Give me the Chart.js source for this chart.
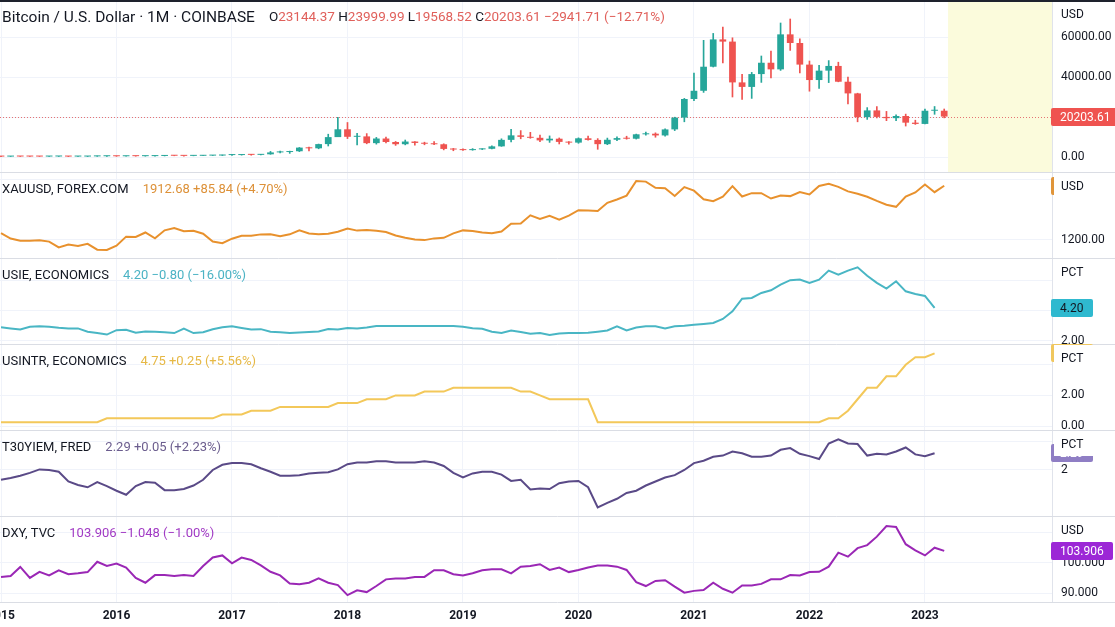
<!DOCTYPE html>
<html>
<head>
<meta charset="utf-8">
<script src="https://cdn.jsdelivr.net/npm/chart.js@4.4.1/dist/chart.umd.min.js"></script>
<style>
  html, body { margin: 0; padding: 0; background: #fff; overflow: hidden; }
  #wrap { width: 1115px; height: 627px; position: relative; }
</style>
</head>
<body>
<div id="wrap"><canvas id="chart" width="1115" height="627"></canvas></div>
<script>
// monthly bars, Jan 2015 = index 0
const YEAR_TICKS = [0, 12, 24, 36, 48, 60, 72, 84, 96];
const YEAR_LABELS = ['2015', '2016', '2017', '2018', '2019', '2020', '2021', '2022', '2023'];

const BTC_O = [314, 217, 254, 244, 236, 230, 263, 284, 230, 236, 314, 377,
  430, 368, 437, 416, 448, 531, 673, 624, 573, 609, 698, 742,
  963, 970, 1190, 1080, 1350, 2300, 2480, 2875, 4700, 4340, 6450, 9950,
  13850, 10100, 10300, 6930, 9240, 7500, 6390, 7730, 7030, 6630, 6370, 4040,
  3740, 3440, 3820, 4100, 5320, 8570, 10820, 10080, 9600, 8300, 9150, 7550,
  7190, 9350, 8540, 6420, 8620, 9450, 9140, 11350, 11650, 10780, 13800, 19700,
  28990, 33110, 45140, 58800, 57700, 37300, 35040, 41460, 47130, 43820, 61320, 57000,
  46200, 38480, 43180, 45530, 37640, 31800, 19940, 23300, 20050, 19420, 20490, 17170,
  16540, 23130, 23144.37];
const BTC_H = [315, 265, 300, 260, 248, 267, 315, 285, 244, 333, 500, 470,
  460, 441, 440, 467, 550, 780, 703, 625, 630, 740, 755, 975,
  1150, 1200, 1350, 1350, 2790, 2990, 2940, 4750, 5000, 6470, 11400, 19890,
  17250, 11800, 11700, 9800, 9990, 7780, 8490, 7760, 7410, 7680, 6600, 4300,
  4120, 4200, 4150, 5620, 9100, 13880, 13200, 12330, 10950, 10540, 9520, 7750,
  9580, 10500, 9190, 9460, 10080, 10390, 11450, 12480, 12080, 14100, 19900, 29300,
  41950, 58350, 61790, 64900, 59600, 41300, 42300, 50500, 52900, 67000, 69000, 59100,
  47990, 45800, 48200, 47400, 40000, 31900, 24700, 25200, 22800, 21100, 21450, 18400,
  23950, 25250, 23999.99];
const BTC_L = [166, 212, 238, 212, 226, 218, 253, 162, 225, 236, 305, 350,
  350, 365, 405, 414, 440, 520, 605, 470, 590, 605, 690, 740,
  750, 930, 890, 1060, 1350, 2100, 1810, 2700, 2980, 4100, 5500, 10800,
  9200, 6000, 6600, 6430, 7030, 5800, 6070, 5880, 6100, 6200, 3560, 3120,
  3350, 3380, 3700, 4080, 5320, 7500, 9100, 9350, 7700, 7300, 6520, 6430,
  6850, 8450, 3850, 6160, 8130, 8900, 8970, 10950, 9880, 10430, 13200, 17600,
  28130, 32300, 45000, 47000, 30000, 28800, 29300, 37300, 39600, 43300, 53300, 42000,
  32900, 34300, 37200, 37600, 26600, 17600, 18800, 19550, 18150, 18180, 15480, 16300,
  16500, 21350, 19568.52];
const BTC_C = [217, 254, 244, 236, 230, 263, 284, 230, 236, 314, 377, 430,
  368, 437, 416, 448, 531, 673, 624, 573, 609, 698, 742, 963,
  970, 1190, 1080, 1350, 2300, 2480, 2875, 4700, 4340, 6450, 9950, 13850,
  10100, 10300, 6930, 9240, 7500, 6390, 7730, 7030, 6630, 6370, 4040, 3740,
  3440, 3820, 4100, 5320, 8570, 10820, 10080, 9600, 8300, 9150, 7550, 7190,
  9350, 8540, 6420, 8620, 9450, 9140, 11350, 11650, 10780, 13800, 19700, 28990,
  33110, 45140, 58800, 57700, 37300, 35040, 41460, 47130, 43820, 61320, 57000, 46200,
  38480, 43180, 45530, 37640, 31800, 19940, 23300, 20050, 19420, 20490, 17170, 16540,
  23130, 23145.32, 20203.61];

const XAUUSD = [1283, 1213, 1183, 1184, 1190, 1172, 1095, 1133, 1115, 1142, 1065, 1061,
  1118, 1238, 1233, 1293, 1215, 1322, 1351, 1309, 1316, 1277, 1173, 1152,
  1211, 1249, 1249, 1268, 1269, 1242, 1269, 1322, 1280, 1271, 1275, 1303,
  1345, 1318, 1325, 1315, 1299, 1253, 1224, 1201, 1192, 1215, 1222, 1282,
  1321, 1313, 1292, 1284, 1305, 1409, 1413, 1520, 1472, 1513, 1464, 1517,
  1589, 1585, 1577, 1686, 1730, 1781, 1975, 1967, 1886, 1879, 1776, 1895,
  1847, 1734, 1708, 1769, 1907, 1770, 1814, 1813, 1743, 1783, 1775, 1829,
  1797, 1909, 1937, 1897, 1838, 1807, 1766, 1711, 1661, 1633, 1768, 1824,
  1928, 1826.84, 1912.68];

const USIE = [2.91, 2.84, 2.77, 2.95, 2.98, 2.95, 2.88, 2.83, 2.84, 2.62, 2.54, 2.43,
  2.72, 2.75, 2.55, 2.63, 2.62, 2.58, 2.53, 2.82, 2.53, 2.58, 2.78, 2.92,
  2.98, 2.87, 2.76, 2.79, 2.62, 2.58, 2.53, 2.56, 2.60, 2.64, 2.80, 2.76,
  2.86, 2.84, 2.90, 3.00, 3.00, 3.00, 3.00, 3.00, 3.00, 3.00, 3.00, 3.00,
  2.95, 2.85, 2.82, 2.62, 2.53, 2.70, 2.60, 2.49, 2.53, 2.40, 2.50, 2.53,
  2.53, 2.55, 2.62, 2.70, 2.98, 2.70, 2.90, 2.98, 2.98, 2.84, 2.98, 3.02,
  3.08, 3.14, 3.20, 3.47, 3.98, 4.82, 4.87, 5.20, 5.38, 5.76, 6.05, 6.09,
  5.87, 6.09, 6.69, 6.42, 6.69, 6.91, 6.35, 5.87, 5.49, 5.98, 5.31, 5.13,
  5.00, 4.20];

const USINTR = [0.25, 0.25, 0.25, 0.25, 0.25, 0.25, 0.25, 0.25, 0.25, 0.25, 0.25, 0.5,
  0.5, 0.5, 0.5, 0.5, 0.5, 0.5, 0.5, 0.5, 0.5, 0.5, 0.5, 0.75,
  0.75, 0.75, 1.0, 1.0, 1.0, 1.25, 1.25, 1.25, 1.25, 1.25, 1.25, 1.5,
  1.5, 1.5, 1.75, 1.75, 1.75, 2.0, 2.0, 2.0, 2.25, 2.25, 2.25, 2.5,
  2.5, 2.5, 2.5, 2.5, 2.5, 2.5, 2.25, 2.25, 2.0, 1.75, 1.75, 1.75,
  1.75, 1.75, 0.25, 0.25, 0.25, 0.25, 0.25, 0.25, 0.25, 0.25, 0.25, 0.25,
  0.25, 0.25, 0.25, 0.25, 0.25, 0.25, 0.25, 0.25, 0.25, 0.25, 0.25, 0.25,
  0.25, 0.25, 0.5, 0.5, 1.0, 1.75, 2.5, 2.5, 3.25, 3.25, 4.0, 4.5,
  4.5, 4.75];

const T30YIEM = [1.83, 1.86, 1.90, 1.95, 2.01, 2.00, 1.97, 1.80, 1.74, 1.70, 1.79, 1.72,
  1.64, 1.57, 1.72, 1.79, 1.78, 1.65, 1.65, 1.67, 1.73, 1.83, 2.00, 2.09,
  2.12, 2.12, 2.10, 2.03, 1.97, 1.90, 1.90, 1.91, 1.94, 1.95, 1.96, 2.01,
  2.10, 2.13, 2.13, 2.15, 2.15, 2.13, 2.13, 2.13, 2.15, 2.13, 2.07, 1.95,
  1.87, 1.94, 1.97, 1.97, 1.92, 1.81, 1.83, 1.66, 1.68, 1.67, 1.77, 1.80,
  1.81, 1.70, 1.35, 1.43, 1.50, 1.60, 1.64, 1.73, 1.80, 1.87, 1.91, 2.00,
  2.12, 2.16, 2.23, 2.25, 2.32, 2.29, 2.23, 2.23, 2.25, 2.35, 2.38, 2.28,
  2.24, 2.19, 2.46, 2.53, 2.46, 2.45, 2.25, 2.28, 2.27, 2.32, 2.39, 2.27,
  2.24, 2.29];

const DXY = [95.3, 95.6, 98.6, 95.0, 97.0, 95.8, 97.5, 96.2, 96.5, 96.9, 100.3, 98.9,
  99.7, 98.4, 95.0, 93.4, 95.9, 95.9, 95.6, 95.9, 95.6, 98.9, 101.7, 102.4,
  99.8, 101.7, 100.9, 99.1, 97.0, 95.8, 93.1, 92.9, 93.4, 94.8, 93.4, 92.6,
  89.3, 90.9, 90.3, 92.3, 94.5, 94.8, 94.8, 95.3, 95.3, 97.5, 97.5, 96.2,
  95.8, 96.5, 97.5, 97.8, 97.8, 96.5, 98.7, 98.9, 99.5, 97.6, 98.4, 96.9,
  97.6, 98.4, 99.1, 99.1, 98.7, 97.6, 93.6, 92.3, 94.0, 94.2, 92.1, 90.1,
  90.7, 91.0, 93.4, 91.4, 90.1, 92.5, 92.5, 93.0, 94.5, 94.5, 95.9, 95.8,
  96.9, 97.0, 98.7, 103.3, 102.0, 104.8, 105.8, 108.6, 112.1, 111.8, 106.1, 104.1,
  102.4, 104.954, 103.906];

const BTC_TICKS = [0, 20000, 40000, 60000];
const XAU_TICKS = [1200, 2000];
const USIE_TICKS = [2, 4, 6];
const USINTR_TICKS = [0, 2, 4];
const T30_TICKS = [2, 2.5];
const DXY_TICKS = [90, 100, 110];

const SHADE_START = 98.4;   // highlighted range after the last bar

const FONT = "Roboto, 'Noto Sans', sans-serif";
const TEXT = '#131722';
const GRID = '#f0f3fa';
const AXIS = '#e0e3eb';
const UP = '#26a69a';
const DOWN = '#ef5350';
const MINUS = '\u2212';

Chart.defaults.font.family = FONT;

const pts = (arr) => arr.map((v, i) => ({ x: i, y: v }));
const candleColors = BTC_C.map((c, i) => (c >= BTC_O[i] ? UP : DOWN));
const signed = (v, d) => (v >= 0 ? '+' : MINUS) + Math.abs(v).toFixed(d);

const PANES = [
  { axis: 'yBtc', title: 'Bitcoin / U.S. Dollar \u00b7 1M \u00b7 COINBASE', unit: 'USD', data: BTC_C, dec: 2,
    titleSize: 15.5, valueSize: 13.5, legend: '#e0605b', tag: '#ef5350', tagText: '#ffffff', ohlc: true },
  { axis: 'yXau', title: 'XAUUSD, FOREX.COM', unit: 'USD', data: XAUUSD, dec: 2, legend: '#dd9138', tag: '#e0953a', tagText: '#ffffff' },
  { axis: 'yUsie', title: 'USIE, ECONOMICS', unit: 'PCT', data: USIE, dec: 2, legend: '#4bb3c4', tag: '#2fb9cf', tagText: '#131722' },
  { axis: 'yRate', title: 'USINTR, ECONOMICS', unit: 'PCT', data: USINTR, dec: 2, legend: '#e6b845', tag: '#f0c75e', tagText: '#131722' },
  { axis: 'yT30', title: 'T30YIEM, FRED', unit: 'PCT', data: T30YIEM, dec: 2, legend: '#6b5d8e', tag: '#8f7ec4', tagText: '#ffffff' },
  { axis: 'yDxy', title: 'DXY, TVC', unit: 'USD', data: DXY, dec: 3, legend: '#a13ac4', tag: '#9c27d6', tagText: '#ffffff' },
];

function legendParts(p) {
  const n = p.data.length;
  const last = p.data[n - 1], prev = p.data[n - 2];
  const ch = last - prev, pct = ch / prev * 100;
  const tail = `${signed(ch, p.dec)} (${signed(pct, 2)}%)`;
  if (p.ohlc) {
    const f = (v) => v.toFixed(2);
    return [
      ['O', TEXT], [f(BTC_O[n - 1]) + ' ', p.legend], ['H', TEXT], [f(BTC_H[n - 1]) + ' ', p.legend],
      ['L', TEXT], [f(BTC_L[n - 1]) + ' ', p.legend], ['C', TEXT], [f(last) + ' ', p.legend], [tail, p.legend],
    ];
  }
  return [[`${last.toFixed(p.dec)} ${tail}`, p.legend]];
}

function drawTag(ctx, x, y, text, bg, fg) {
  ctx.font = `12px ${FONT}`;
  const w = Math.ceil(ctx.measureText(text).width) + 18;
  ctx.fillStyle = bg;
  ctx.beginPath();
  if (ctx.roundRect) ctx.roundRect(x, Math.round(y) - 9, w, 18, 2); else ctx.rect(x, Math.round(y) - 9, w, 18);
  ctx.fill();
  ctx.fillStyle = fg;
  ctx.textBaseline = 'middle';
  ctx.fillText(text, x + 9, Math.round(y) + 0.5);
}

const overlay = {
  id: 'tvOverlay',
  beforeDatasetsDraw(chart) {
    const { ctx, chartArea, scales } = chart;
    const yb = scales.yBtc;
    const sx = scales.x.getPixelForValue(SHADE_START);
    ctx.save();
    ctx.fillStyle = '#fbfbdc';
    ctx.fillRect(sx, yb.top, chartArea.right - sx, yb.bottom - yb.top);
    const py = Math.round(yb.getPixelForValue(BTC_C[BTC_C.length - 1])) + 0.5;
    ctx.strokeStyle = '#e57373';
    ctx.lineWidth = 1;
    ctx.setLineDash([1, 2]);
    ctx.beginPath(); ctx.moveTo(chartArea.left, py); ctx.lineTo(chartArea.right, py); ctx.stroke();
    ctx.restore();
  },
  afterDraw(chart) {
    const { ctx, chartArea, scales } = chart;
    const W = chart.width;
    ctx.save();
    ctx.strokeStyle = '#dadde4';
    ctx.lineWidth = 1;
    PANES.forEach((p) => {
      const y = Math.round(scales[p.axis].bottom) + 0.5;
      ctx.beginPath(); ctx.moveTo(0, y); ctx.lineTo(W, y); ctx.stroke();
    });
    PANES.forEach((p) => {
      const s = scales[p.axis];
      const last = p.data[p.data.length - 1];
      drawTag(ctx, chartArea.right - 1, s.getPixelForValue(last), last.toFixed(p.dec), p.tag, p.tagText);
      ctx.fillStyle = '#ffffff';
      ctx.fillRect(chartArea.right + 2, s.top + 1, W - chartArea.right - 2, 25);
      ctx.fillStyle = TEXT;
      ctx.font = `12px ${FONT}`;
      ctx.textBaseline = 'middle';
      ctx.fillText(p.unit, chartArea.right + 9, s.top + 15);

      let x = 2;
      const y = s.top + 18;
      ctx.font = `${p.titleSize || 13}px ${FONT}`;
      ctx.fillStyle = TEXT;
      ctx.fillText(p.title, x, y);
      x += ctx.measureText(p.title).width + 14;
      ctx.font = `${p.valueSize || 13}px ${FONT}`;
      legendParts(p).forEach(([t, c]) => {
        ctx.fillStyle = c;
        ctx.fillText(t, x, y);
        x += ctx.measureText(t).width;
      });
    });
    ctx.fillStyle = '#1e222d';
    ctx.fillRect(0, 0, W, 2);
    ctx.restore();
  },
};

function yAxis(weight, min, max, ticks, dec) {
  return {
    type: 'linear', position: 'right', stack: 'panes', stackWeight: weight,
    min, max, offset: false,
    afterBuildTicks: (s) => { s.ticks = ticks.map((v) => ({ value: v })); },
    afterFit: (s) => { s.width = 63; s.paddingTop = 0; s.paddingBottom = 0; },
    grid: { color: GRID, drawTicks: false },
    border: { color: AXIS },
    ticks: {
      padding: 9, color: TEXT, font: { size: 12 }, autoSkip: false,
      callback: function (v) {
        const px = this.getPixelForValue(v);
        if (px - this.top < 30) return '';
        return Number(v).toFixed(dec);
      },
    },
  };
}

new Chart(document.getElementById('chart'), {
  type: 'bar',
  data: {
    datasets: [
      { type: 'bar', label: 'wick', yAxisID: 'yBtc', order: 3, grouped: false, barThickness: 1,
        data: BTC_H.map((h, i) => ({ x: i, y: [BTC_L[i], h] })), backgroundColor: candleColors },
      { type: 'bar', label: 'body', yAxisID: 'yBtc', order: 2, grouped: false, barPercentage: 0.7, categoryPercentage: 1,
        minBarLength: 1, data: BTC_O.map((o, i) => ({ x: i, y: [o, BTC_C[i]] })), backgroundColor: candleColors },
      { type: 'line', label: 'XAUUSD', yAxisID: 'yXau', order: 1, data: pts(XAUUSD), borderColor: '#e8912d', borderWidth: 2, pointRadius: 0, tension: 0 },
      { type: 'line', label: 'USIE', yAxisID: 'yUsie', order: 1, data: pts(USIE), borderColor: '#49b6c4', borderWidth: 2, pointRadius: 0, tension: 0 },
      { type: 'line', label: 'USINTR', yAxisID: 'yRate', order: 1, data: pts(USINTR), borderColor: '#f3c85a', borderWidth: 2, pointRadius: 0, tension: 0 },
      { type: 'line', label: 'T30YIEM', yAxisID: 'yT30', order: 1, data: pts(T30YIEM), borderColor: '#5a4a87', borderWidth: 2, pointRadius: 0, tension: 0 },
      { type: 'line', label: 'DXY', yAxisID: 'yDxy', order: 1, data: pts(DXY), borderColor: '#9a27b5', borderWidth: 2, pointRadius: 0, tension: 0 },
    ],
  },
  options: {
    responsive: false,
    animation: false,
    layout: { padding: 0 },
    plugins: { legend: { display: false }, tooltip: { enabled: false } },
    scales: {
      x: {
        type: 'linear', position: 'bottom', min: -0.104, max: 109.2, offset: false,
        afterBuildTicks: (s) => { s.ticks = YEAR_TICKS.map((v) => ({ value: v })); },
        afterFit: (s) => { s.height = 25; s.paddingLeft = 0; s.paddingRight = 0; },
        grid: { color: GRID, drawTicks: false, offset: false },
        border: { display: false },
        ticks: { padding: 7, color: TEXT, font: { size: 12, weight: 'bold' }, maxRotation: 0, autoSkip: false,
          callback: (v, i) => YEAR_LABELS[i] },
      },
      yBtc: yAxis(2, -7500, 78500, BTC_TICKS, 2),
      yXau: yAxis(1, 955, 2094.5, XAU_TICKS, 2),
      yUsie: yAxis(1, 1.8, 7.53, USIE_TICKS, 2),
      yRate: yAxis(1, -0.26, 5.36, USINTR_TICKS, 2),
      yT30: yAxis(1, 1.201, 2.694, T30_TICKS, 0),
      yDxy: yAxis(1, 87.03, 115.41, DXY_TICKS, 3),
    },
  },
  plugins: [overlay],
});
</script>
</body>
</html>
